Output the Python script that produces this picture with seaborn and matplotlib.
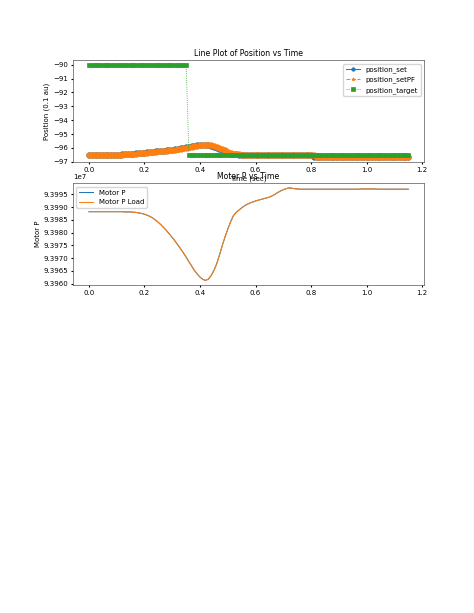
import matplotlib
matplotlib.use("Agg")
import matplotlib.pyplot as plt
import seaborn as sns

# time base (sec)
time_s = [
    0.00, 0.01, 0.02, 0.03, 0.04, 0.05, 0.06, 0.07, 0.08, 0.09,
    0.10, 0.11, 0.12, 0.13, 0.14, 0.15, 0.16, 0.17, 0.18, 0.19,
    0.20, 0.21, 0.22, 0.23, 0.24, 0.25, 0.26, 0.27, 0.28, 0.29,
    0.30, 0.31, 0.32, 0.33, 0.34, 0.35, 0.36, 0.37, 0.38, 0.39,
    0.40, 0.41, 0.42, 0.43, 0.44, 0.45, 0.46, 0.47, 0.48, 0.49,
    0.50, 0.51, 0.52, 0.53, 0.54, 0.55, 0.56, 0.57, 0.58, 0.59,
    0.60, 0.61, 0.62, 0.63, 0.64, 0.65, 0.66, 0.67, 0.68, 0.69,
    0.70, 0.71, 0.72, 0.73, 0.74, 0.75, 0.76, 0.77, 0.78, 0.79,
    0.80, 0.81, 0.82, 0.83, 0.84, 0.85, 0.86, 0.87, 0.88, 0.89,
    0.90, 0.91, 0.92, 0.93, 0.94, 0.95, 0.96, 0.97, 0.98, 0.99,
    1.00, 1.01, 1.02, 1.03, 1.04, 1.05, 1.06, 1.07, 1.08, 1.09,
    1.10, 1.11, 1.12, 1.13, 1.14, 1.15,
]

position_set = [
    -96.52, -96.52, -96.52, -96.52, -96.51, -96.51, -96.50, -96.50, -96.50, -96.50,
    -96.49, -96.48, -96.47, -96.46, -96.44, -96.43, -96.41, -96.39, -96.37, -96.35,
    -96.33, -96.31, -96.29, -96.27, -96.25, -96.23, -96.21, -96.19, -96.17, -96.15,
    -96.12, -96.09, -96.06, -96.03, -96.00, -95.96, -95.92, -95.88, -95.84, -95.80,
    -95.77, -95.76, -95.77, -95.80, -95.85, -95.92, -96.00, -96.09, -96.18, -96.27,
    -96.34, -96.40, -96.44, -96.47, -96.49, -96.50, -96.50, -96.50, -96.50, -96.50,
    -96.50, -96.50, -96.50, -96.50, -96.50, -96.50, -96.50, -96.50, -96.50, -96.50,
    -96.50, -96.50, -96.50, -96.50, -96.50, -96.50, -96.50, -96.50, -96.50, -96.50,
    -96.50, -96.62, -96.62, -96.62, -96.62, -96.62, -96.62, -96.62, -96.62, -96.62,
    -96.62, -96.62, -96.62, -96.62, -96.62, -96.62, -96.62, -96.62, -96.62, -96.62,
    -96.62, -96.62, -96.62, -96.62, -96.62, -96.62, -96.62, -96.62, -96.62, -96.62,
    -96.62, -96.62, -96.62, -96.62, -96.62, -96.62,
]

position_setPF = [
    -96.52, -96.52, -96.52, -96.52, -96.52, -96.52, -96.51, -96.51, -96.50, -96.50,
    -96.50, -96.49, -96.48, -96.47, -96.46, -96.44, -96.43, -96.41, -96.39, -96.37,
    -96.35, -96.33, -96.31, -96.29, -96.27, -96.25, -96.23, -96.21, -96.19, -96.17,
    -96.15, -96.12, -96.09, -96.06, -96.03, -96.00, -95.96, -95.92, -95.88, -95.84,
    -95.80, -95.77, -95.76, -95.77, -95.80, -95.85, -95.92, -96.00, -96.09, -96.18,
    -96.27, -96.34, -96.40, -96.44, -96.47, -96.49, -96.50, -96.50, -96.50, -96.50,
    -96.50, -96.50, -96.50, -96.50, -96.50, -96.50, -96.50, -96.50, -96.50, -96.50,
    -96.50, -96.50, -96.50, -96.50, -96.50, -96.50, -96.50, -96.50, -96.50, -96.50,
    -96.50, -96.50, -96.62, -96.62, -96.62, -96.62, -96.62, -96.62, -96.62, -96.62,
    -96.62, -96.62, -96.62, -96.62, -96.62, -96.62, -96.62, -96.62, -96.62, -96.62,
    -96.62, -96.62, -96.62, -96.62, -96.62, -96.62, -96.62, -96.62, -96.62, -96.62,
    -96.62, -96.62, -96.62, -96.62, -96.62, -96.62,
]

position_target = [
    -90.0, -90.0, -90.0, -90.0, -90.0, -90.0, -90.0, -90.0, -90.0, -90.0,
    -90.0, -90.0, -90.0, -90.0, -90.0, -90.0, -90.0, -90.0, -90.0, -90.0,
    -90.0, -90.0, -90.0, -90.0, -90.0, -90.0, -90.0, -90.0, -90.0, -90.0,
    -90.0, -90.0, -90.0, -90.0, -90.0, -90.0, -96.5, -96.5, -96.5, -96.5,
    -96.5, -96.5, -96.5, -96.5, -96.5, -96.5, -96.5, -96.5, -96.5, -96.5,
    -96.5, -96.5, -96.5, -96.5, -96.5, -96.5, -96.5, -96.5, -96.5, -96.5,
    -96.5, -96.5, -96.5, -96.5, -96.5, -96.5, -96.5, -96.5, -96.5, -96.5,
    -96.5, -96.5, -96.5, -96.5, -96.5, -96.5, -96.5, -96.5, -96.5, -96.5,
    -96.5, -96.5, -96.5, -96.5, -96.5, -96.5, -96.5, -96.5, -96.5, -96.5,
    -96.5, -96.5, -96.5, -96.5, -96.5, -96.5, -96.5, -96.5, -96.5, -96.5,
    -96.5, -96.5, -96.5, -96.5, -96.5, -96.5, -96.5, -96.5, -96.5, -96.5,
    -96.5, -96.5, -96.5, -96.5, -96.5, -96.5,
]

# motor P, in units of 1e7
motor_p = [
    9.39882, 9.39882, 9.39882, 9.39882, 9.39882, 9.39882, 9.39882, 9.39882, 9.39882, 9.39882,
    9.39882, 9.39882, 9.39882, 9.39881, 9.39881, 9.39881, 9.39880, 9.39879, 9.39877, 9.39875,
    9.39872, 9.39868, 9.39863, 9.39857, 9.39849, 9.39840, 9.39830, 9.39819, 9.39807, 9.39794,
    9.39781, 9.39767, 9.39752, 9.39737, 9.39721, 9.39704, 9.39686, 9.39669, 9.39652, 9.39638,
    9.39626, 9.39617, 9.39613, 9.39618, 9.39632, 9.39652, 9.39678, 9.39712, 9.39749, 9.39783,
    9.39814, 9.39842, 9.39866, 9.39879, 9.39888, 9.39897, 9.39905, 9.39911, 9.39916, 9.39920,
    9.39924, 9.39927, 9.39930, 9.39933, 9.39936, 9.39939, 9.39944, 9.39950, 9.39957, 9.39963,
    9.39968, 9.39972, 9.39975, 9.39974, 9.39972, 9.39971, 9.39970, 9.39970, 9.39970, 9.39970,
    9.39970, 9.39970, 9.39970, 9.39970, 9.39970, 9.39970, 9.39970, 9.39970, 9.39970, 9.39970,
    9.39970, 9.39970, 9.39970, 9.39970, 9.39970, 9.39970, 9.39970, 9.39970, 9.39971, 9.39971,
    9.39971, 9.39971, 9.39971, 9.39971, 9.39970, 9.39970, 9.39970, 9.39970, 9.39970, 9.39970,
    9.39970, 9.39970, 9.39970, 9.39970, 9.39970, 9.39970,
]
motor_p_load = list(motor_p)

x_ticks = [0.0, 0.2, 0.4, 0.6, 0.8, 1.0, 1.2]
pos_ticks = [-97, -96, -95, -94, -93, -92, -91, -90]
motor_ticks = [9.3960, 9.3965, 9.3970, 9.3975, 9.3980, 9.3985, 9.3990, 9.3995]

plt.rcParams.update({
    'font.size': 5,
    'axes.titlesize': 5.6,
    'axes.labelsize': 5,
    'xtick.labelsize': 5,
    'ytick.labelsize': 5,
    'legend.fontsize': 5,
    'xtick.major.size': 1.75,
    'ytick.major.size': 1.75,
    'xtick.major.pad': 1.75,
    'ytick.major.pad': 1.75,
    'axes.linewidth': 0.5,
    'axes.edgecolor': '#555555',
    'axes.titlepad': 3,
    'axes.labelpad': 2,
})

fig = plt.figure(figsize=(4.74, 6.13), dpi=100)
ax1 = fig.add_axes([0.154, 0.736, 0.741, 0.166])
ax2 = fig.add_axes([0.154, 0.535, 0.741, 0.166])

c = sns.color_palette("tab10")

sns.lineplot(x=time_s, y=position_set, ax=ax1, label='position_set', color=c[0],
             marker='o', markersize=4, mec=c[0], mew=0.5, linewidth=0.75)
sns.lineplot(x=time_s, y=position_setPF, ax=ax1, label='position_setPF', color=c[1],
             linestyle='--', marker='o', markersize=4, mec=c[1], mew=0.5, linewidth=0.75)
sns.lineplot(x=time_s, y=position_target, ax=ax1, label='position_target', color=c[2],
             linestyle=':', marker='s', markersize=3.2, mec=c[2], mew=0.5, linewidth=0.6)
ax1.set_title('Line Plot of Position vs Time')
ax1.set_xlabel('Time (sec)')
ax1.set_ylabel('Position (0.1 au)')
ax1.set_xticks(x_ticks)
ax1.set_yticks(pos_ticks)
leg = ax1.legend(loc='upper right', frameon=True, borderpad=0.4, handlelength=2)
# legend markers: small, with a star for the PF series
for h, m in zip(leg.legend_handles, ['o', '*', 's']):
    h.set_marker(m)
    h.set_markersize(2.5)

sns.lineplot(x=time_s, y=[v * 1e7 for v in motor_p], ax=ax2, label='Motor P',
             color=c[0], linewidth=0.75)
sns.lineplot(x=time_s, y=[v * 1e7 for v in motor_p_load], ax=ax2, label='Motor P Load',
             color=c[1], linewidth=0.75)
ax2.set_title('Motor P vs Time')
ax2.set_ylabel('Motor P')
ax2.set_xticks(x_ticks)
ax2.set_yticks([v * 1e7 for v in motor_ticks])
ax2.ticklabel_format(axis='y', useOffset=False)
ax2.legend(loc='upper left', frameon=True, borderpad=0.4, handlelength=2)

fig.savefig('out.png', dpi=100, facecolor='white')
